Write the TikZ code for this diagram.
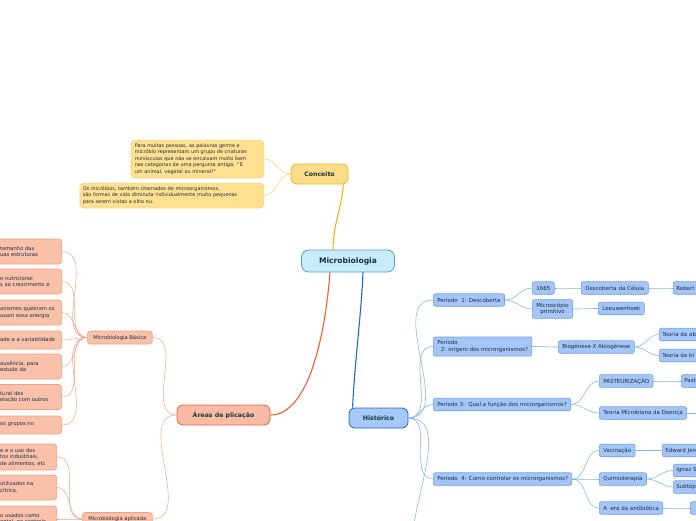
\documentclass[tikz,border=0pt]{standalone}
\usepackage{fontspec}
\setmainfont{DejaVu Sans}
\definecolor{rootfill}{HTML}{C8ECFC}
\definecolor{rootline}{HTML}{4A9EDA}
\definecolor{concfill}{HTML}{FDDC8A}
\definecolor{concline}{HTML}{F2B21A}
\definecolor{notefill}{HTML}{FEE08F}
\definecolor{noteline}{HTML}{F8D278}
\definecolor{areafill}{HTML}{F8BCA6}
\definecolor{arealine}{HTML}{F0602E}
\definecolor{sfill}{HTML}{F9C0AA}
\definecolor{sline}{HTML}{F4A080}
\definecolor{histfill}{HTML}{A4C8F8}
\definecolor{histline}{HTML}{1B66D8}
\definecolor{bfill}{HTML}{A3C6F7}
\definecolor{bline}{HTML}{6E9FE6}
\definecolor{bwire}{HTML}{8BB3EE}
\definecolor{headtext}{HTML}{173A38}
\definecolor{leaftext}{HTML}{1E2B45}
\begin{document}
\begin{tikzpicture}[x=1pt,y=-1pt,
    root/.style={draw=rootline,fill=rootfill,line width=0.8pt,rounded corners=7pt,
        minimum width=93pt,minimum height=22pt,text=leaftext,
        font=\fontsize{7.6}{9}\selectfont\bfseries},
    topic/.style={line width=0.8pt,rounded corners=6pt,minimum height=20pt,
        text=headtext,font=\fontsize{6.2}{7}\selectfont\bfseries},
    note/.style={draw=noteline,fill=notefill,line width=0.5pt,rounded corners=4pt,
        anchor=east,align=left,text=leaftext,font=\fontsize{4.95}{6.5}\selectfont},
    oleaf/.style={draw=sline,fill=sfill,line width=0.6pt,rounded corners=3pt,
        minimum height=13pt,inner xsep=4pt,text=leaftext,font=\fontsize{5.2}{6.5}\selectfont},
    ocut/.style={oleaf,anchor=east,align=left},
    bleaf/.style={draw=bline,fill=bfill,line width=0.6pt,rounded corners=2pt,
        minimum height=12.5pt,inner xsep=4pt,anchor=west,text=leaftext,
        font=\fontsize{5.5}{6.5}\selectfont},
    bcut/.style={bleaf,text width=50pt,inner xsep=3pt,align=left},
    owire/.style={draw=sline,line width=0.5pt},
    bwire/.style={draw=bwire,line width=0.6pt},
    ywire/.style={draw=noteline,line width=0.6pt}]

    \useasboundingbox (0,0) rectangle (696,520);
    \clip (0,0) rectangle (696,520);

    % main topics
    \node[root] (micro) at (348,261) {Microbiologia};
    \node[topic,draw=concline,fill=concfill,minimum width=57pt] (conc) at (319.5,174) {Conceito};
    \node[topic,draw=arealine,fill=areafill,minimum width=93pt] (areas) at (223.5,415) {Áreas de plicação};
    \node[topic,draw=histline,fill=histfill,minimum width=59pt] (hist) at (378.5,418) {Histórico};

    % conceito
    \node[note,text width=125pt,inner xsep=4pt,minimum height=38pt] (c1) at (264,159)
        {Para muitas pessoas, as palavras germe e\\micróbio representam um grupo de criaturas\\minúsculas que não se encaixam muito bem\\nas categorias de uma pergunta antiga: ``É\\um animal, vegetal ou mineral?''};
    \node[note,text width=178pt,inner xsep=3pt,minimum height=25pt] (c2) at (264,195.5)
        {Os micróbios, também chamados de microorganismos,\\são formas de vida diminuta individualmente muito pequenas\\para serem vistas a olho nu.};

    % areas de aplicacao
    \node[oleaf,anchor=west,minimum width=65pt] (bas) at (87,337.5) {Microbiologia Básica};
    \node[oleaf,anchor=west,minimum width=70pt] (apl) at (82,519) {Microbiologia aplicada};

    \node[ocut,text width=57.5pt,minimum height=25pt] (b1) at (62,251.5) {tamanho das\\uas estruturas};
    \node[ocut,text width=57.5pt,minimum height=25pt] (b2) at (62,281.5) {e nutricional\\s ao crescimento e};
    \node[ocut,text width=57.5pt,minimum height=25pt] (b3) at (62,312.5) {anismos quebram os\\usam essa energia};
    \node[ocut,text width=57.5pt,minimum height=18pt] (b4) at (62,340) {ade e a variabilidade};
    \node[ocut,text width=57.5pt,minimum height=25pt] (b5) at (62,366.5) {ausência, para\\estudo da};
    \node[ocut,text width=57.5pt,minimum height=25pt] (b6) at (62,397) {tural dos\\elação com outros};
    \node[ocut,text width=57.5pt,minimum height=18pt] (b7) at (62,425) {os grupos no};

    \node[ocut,text width=52.5pt,minimum height=26pt] (a1) at (57,457) {e e o uso dos\\tos industriais,\\de alimentos, etc};
    \node[ocut,text width=52.5pt,minimum height=25pt] (a2) at (57,487.5) {utilizados na\\cítrico,};
    \node[ocut,text width=52.5pt,minimum height=26pt] (a3) at (57,519) {o usados como\\ental, no controle};

    % historico
    \node[bleaf] (per1) at (433,300) {Período\ \ 1: Descoberta};
    \node[bleaf,align=left,minimum height=19pt] (per2) at (433,346.5) {Período\\\ \ 2: origem dos microrganismos?};
    \node[bleaf] (per3) at (433,404.5) {Período 3:\ \ Qual a função dos microrganismos?};
    \node[bleaf] (per4) at (433,479) {Período\ \ 4: Como controlar os microrganismos?};
    \coordinate (per5) at (433,565);

    \node[bleaf] (y1665) at (532,288) {1665};
    \node[bleaf,align=center,minimum height=18pt] (mic) at (532,309) {Microscópio\\primitivo};
    \node[bleaf] (cel) at (581,288) {Descoberta da Célula};
    \node[bcut] (rob) at (673,288) {Robert};
    \node[bleaf] (leeu) at (598,308.5) {Leeuwenhoek};

    \node[bleaf] (bio) at (558,347) {Biogênese X Abiogênese};
    \node[bcut] (tab) at (659,334.5) {Teoria da ab};
    \node[bcut] (tbi) at (659,355.5) {Teoria da bi};

    \node[bleaf] (past) at (599,381) {PASTEURIZAÇÃO};
    \node[bcut] (past2) at (681,381) {Past};
    \node[bleaf] (tmd) at (599,413) {Teoria Microbiana da Doença};
    \coordinate (tmd2) at (710,413);

    \node[bleaf] (vac) at (599,450.5) {Vacinação};
    \node[bcut] (jen) at (662,450.5) {Edward Jen};
    \node[bleaf] (qui) at (599,479) {Quimioterapia};
    \node[bcut] (ign) at (673,470.5) {Ignaz S};
    \node[bcut] (sub) at (673,487) {Subtóp};
    \node[bleaf] (era) at (599,508) {A\ \ era da antibiótica};
    \node[bcut] (flem) at (690,508) {};

    % main branches
    \draw[concline,line width=1.1pt] ([xshift=-15pt]micro.north) .. controls +(0,-25) and +(-2,25) .. ([xshift=-5pt]conc.south east);
    \draw[arealine,line width=1.1pt] ([xshift=-18pt]micro.south) .. controls +(-6,75) and +(35,0) .. (areas.east);
    \draw[histline,line width=1.1pt] ([xshift=15pt]micro.south) .. controls +(-2,45) and +(2,-45) .. ([xshift=4pt]hist.north west);

    % conceito wires
    \foreach \n in {c1,c2}
        \draw[ywire] (conc.west) to[out=180,in=0] (\n.east);

    % areas wires
    \foreach \n in {bas,apl}
        \draw[owire] (areas.west) to[out=180,in=0] (\n.east);
    \foreach \n in {b1,b2,b3,b4,b5,b6,b7}
        \draw[owire] (bas.west) to[out=180,in=0] (\n.east);
    \foreach \n in {a1,a2,a3}
        \draw[owire] (apl.west) to[out=180,in=0] (\n.east);

    % historico wires
    \foreach \n in {per1,per2,per3,per4}
        \draw[bwire] (hist.east) to[out=0,in=180] (\n.west);
    \draw[bwire] (hist.east) to[out=0,in=180] (per5);
    \foreach \a/\b in {per1/y1665,per1/mic,y1665/cel,cel/rob,mic/leeu,per2/bio,bio/tab,bio/tbi,
        per3/past,per3/tmd,past/past2,per4/vac,per4/qui,per4/era,vac/jen,qui/ign,qui/sub,era/flem}
        \draw[bwire] (\a.east) to[out=0,in=180] (\b.west);
    \draw[bwire] (tmd.east) -- (tmd2);
\end{tikzpicture}
\end{document}
